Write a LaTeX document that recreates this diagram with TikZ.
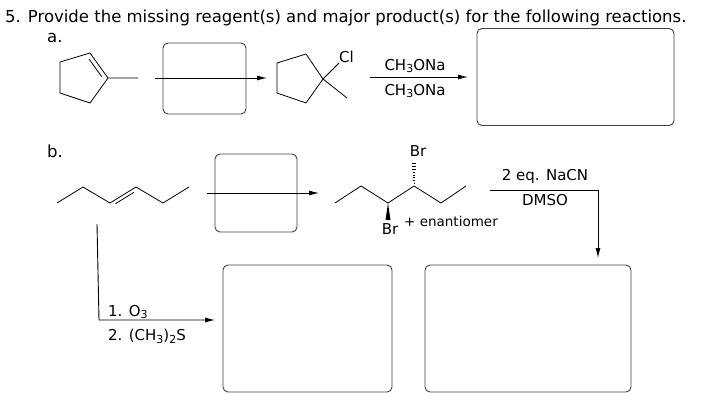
\documentclass[tikz,border=0pt]{standalone}
\usepackage{fontspec}
\setmainfont{DejaVu Sans}
\usetikzlibrary{arrows.meta,calc}
\newcommand{\chsub}[1]{\raisebox{-0.35ex}{\fontsize{11}{12}\selectfont #1}}
\begin{document}
\begin{tikzpicture}[x=1pt,y=-1pt,
  bond/.style={line width=0.8pt},
  box/.style={draw=black!75,line width=0.9pt,rounded corners=5pt},
  arr/.style={line width=0.9pt,-{Latex[length=10pt,width=5pt]}},
  txt/.style={font=\fontsize{15}{17}\selectfont,inner sep=0pt}]
\useasboundingbox (0,0) rectangle (718,410);
\node[txt,anchor=base west,font=\fontsize{16.5}{18}\selectfont] (title) at (5,22) {5. Provide the missing reagent(s) and major product(s) for the following reactions.};
\node[txt,anchor=base west,font=\fontsize{16.5}{18}\selectfont] (la) at (47,42) {a.};
% methylcyclopentene
\draw[bond] (60,62)--(90,53)--(108,78)--(90,103)--(60,93)--cycle (108,78)--(138,78);
\draw[bond] ($(90,53)!0.15!(108,78)+(-3.5,2.5)$) -- ($(90,53)!0.85!(108,78)+(-3.5,2.5)$);
% box 1 and arrow
\node[box,minimum width=83pt,minimum height=71pt] (b1) at (204.5,78.5) {};
\coordinate (a1s) at (155,78); \coordinate (a1e) at (267,78);
\draw[arr] (a1s)--(a1e);
% chloride
\draw[bond] (277,63)--(306,54)--(323,79)--(306,103)--(277,93)--cycle (323,79)--(339,63) (323,79)--(347,98);
\node[txt,anchor=west] (cl) at (339,57) {Cl};
\coordinate (a2s) at (370,77); \coordinate (a2e) at (468,77);
\draw[arr] (a2s)--(a2e);
\node[txt] (r1) at (415,66) {CH\chsub{3}ONa};
\node[txt] (r2) at (415,91) {CH\chsub{3}ONa};
\node[box,minimum width=197pt,minimum height=97pt] (b2) at (575.5,77) {};
% b
\node[txt,anchor=base west,font=\fontsize{16.5}{18}\selectfont] (lb) at (47,157) {b.};
\draw[bond] (57,203)--(83,187)--(110,203)--(136,187)--(163,203)--(189,187);
\draw[bond] ($(110,203)!0.15!(136,187)+(1.7,3)$)--($(110,203)!0.85!(136,187)+(1.7,3)$);
\node[box,minimum width=82pt,minimum height=78pt] (b3) at (256,193) {};
\coordinate (a3s) at (207,193); \coordinate (a3e) at (319,193);
\draw[arr] (a3s)--(a3e);
% dibromide
\draw[bond] (335,203)--(361,186)--(388,203)--(414,186)--(441,203)--(466,186);
\foreach \t in {0.1,0.22,...,0.95} \draw[line width=0.7pt] ($(414,186)!\t!(414,162)+(-\t*2.5,0)$)--($(414,186)!\t!(414,162)+(\t*2.5,0)$);
\fill (388,203)--(385.5,220)--(390.5,220)--cycle;
\node[txt] (br1) at (418,151) {Br};
\node[txt] (br2) at (390,229) {Br};
\node[txt,anchor=west,font=\fontsize{13.5}{15}\selectfont] (en) at (404,221) {+ enantiomer};
% reagent b
\coordinate (c1) at (490,190); \coordinate (c2) at (598,190); \coordinate (c3) at (598,258);
\draw[arr] (c1)--(c2)--(c3);
\node[txt] (r3) at (545,176) {2 eq. NaCN};
\node[txt] (r4) at (545,200) {DMSO};
% ozonolysis
\coordinate (d1) at (97,224); \coordinate (d2) at (99,320); \coordinate (d3) at (215,320);
\draw[arr] (d1)--(d2)--(d3);
\node[txt,anchor=west] (r5) at (108,312) {1. O\chsub{3}};
\node[txt,anchor=west] (r6) at (108,336) {2. (CH\chsub{3})\chsub{2}S};
\node[box,minimum width=169pt,minimum height=127pt] (b4) at (307.5,328.5) {};
\node[box,minimum width=206pt,minimum height=127pt] (b5) at (528,328.5) {};
\end{tikzpicture}
\end{document}
